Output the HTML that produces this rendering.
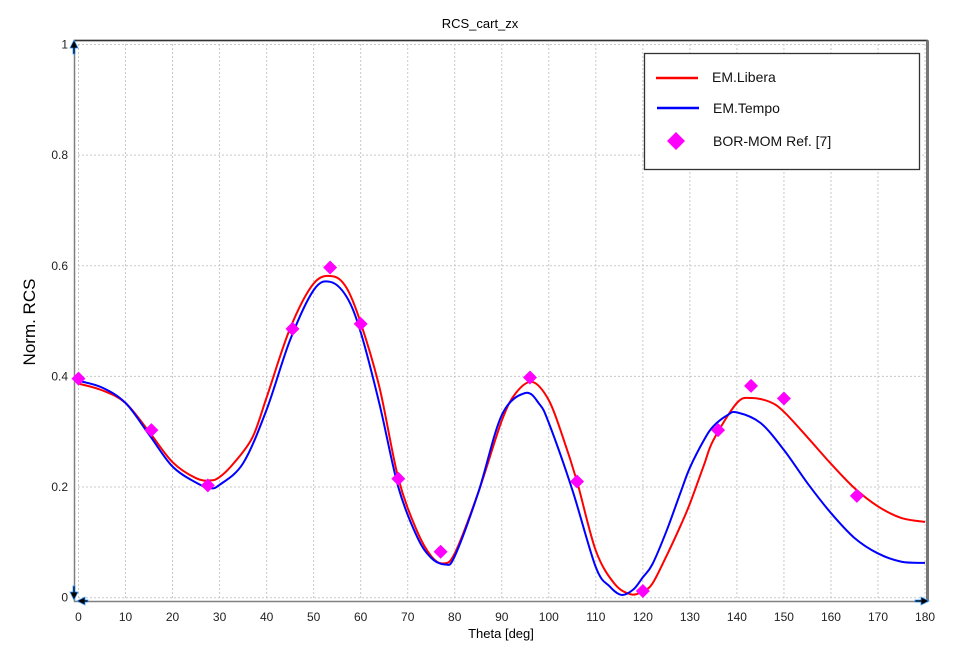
<!DOCTYPE html>
<html><head><meta charset="utf-8"><style>
body{margin:0;background:#fff;width:960px;height:664px;overflow:hidden}
svg{display:block;font-family:"Liberation Sans",sans-serif}
</style></head><body>
<svg id="s" width="960" height="664" xmlns="http://www.w3.org/2000/svg">
<text x="480" y="28" font-size="13" text-anchor="middle" fill="#000">RCS_cart_zx</text>
<g id="grid" stroke="#c8c8c8" stroke-dasharray="2,2" stroke-width="1"></g>
<path d="M74.5 40.5 H927.5 V601.5 H74.5 Z" fill="none" stroke="#808080" stroke-width="1.5"/>
<path d="M74.5 40.5 H927.5" stroke="#333" stroke-width="1.5"/>
<path d="M927.5 40.5 V601.5" stroke="#777" stroke-width="3"/>
<g id="ticks" font-size="12" fill="#222"></g>
<text x="35" y="322" font-size="17" text-anchor="middle" transform="rotate(-90 35 322)">Norm. RCS</text>
<text x="501" y="638" font-size="13" text-anchor="middle">Theta [deg]</text>
<path id="red" fill="none" stroke="#f00" stroke-width="2"/>
<path id="blue" fill="none" stroke="#00f" stroke-width="2"/>
<g id="mk" fill="#f0f"></g>
<path d="M74 40 l-4 8 h3 v6 h2 v-6 h3z" fill="#000" stroke="#39f" stroke-width="0.8"/>
<path d="M74 600 l-4 -8 h3 v-6 h2 v6 h3z" fill="#000" stroke="#39f" stroke-width="0.8"/>
<path d="M77 601 l8 -4 v3 h3 v2 h-3 v3z" fill="#000" stroke="#39f" stroke-width="0.8"/>
<path d="M929 601 l-8 -4 v3 h-6 v2 h6 v3z" fill="#000" stroke="#39f" stroke-width="0.8"/>
<rect x="644.5" y="53.5" width="275" height="116" fill="#fff" stroke="#333" stroke-width="1.3"/>
<line x1="656" y1="78" x2="698" y2="78" stroke="#f00" stroke-width="2.5"/>
<line x1="657" y1="108" x2="699" y2="108" stroke="#00f" stroke-width="2.5"/>
<path d="M676 132 l9 9 l-9 9 l-9 -9z" fill="#f0f"/>
<text x="712" y="82" font-size="14" fill="#111">EM.Libera</text>
<text x="713" y="113" font-size="14" fill="#111">EM.Tempo</text>
<text x="713" y="146" font-size="14" fill="#111">BOR-MOM Ref. [7]</text>
</svg>
<script>
const X=t=>78.5+t*4.703, Y=v=>597.7-v*553.2;
let g=document.getElementById('grid'),tk=document.getElementById('ticks'),h='',k='';
for(let t=0;t<=180;t+=10){let x=X(t);h+=`<line x1="${x}" y1="44" x2="${x}" y2="598"/>`;k+=`<text x="${x}" y="621" text-anchor="middle">${t}</text>`;}
for(let v=0;v<=1.001;v+=0.2){let y=Y(v);h+=`<line x1="78" y1="${y}" x2="925" y2="${y}"/>`;let l=v<0.01?'0':v>0.99?'1':v.toFixed(1);k+=`<text x="68" y="${y+4}" text-anchor="end">${l}</text>`;}
g.innerHTML=h;tk.innerHTML=k;
function path(p){let q=p.map(a=>[X(a[0]),Y(a[1])]);let d=`M${q[0][0]} ${q[0][1]}`;
for(let i=0;i<q.length-1;i++){let p0=q[Math.max(0,i-1)],p1=q[i],p2=q[i+1],p3=q[Math.min(q.length-1,i+2)];
d+=` C${p1[0]+(p2[0]-p0[0])/6} ${p1[1]+(p2[1]-p0[1])/6} ${p2[0]-(p3[0]-p1[0])/6} ${p2[1]-(p3[1]-p1[1])/6} ${p2[0]} ${p2[1]}`;}return d;}
const R=[[0,0.387],[5,0.375],[10,0.352],[15,0.30],[20,0.245],[25,0.216],[28,0.212],[30,0.218],[33,0.243],[37,0.29],[40,0.362],[45,0.487],[50,0.568],[54,0.581],[57,0.56],[60,0.497],[64,0.38],[68,0.216],[72,0.12],[75,0.075],[77.5,0.062],[80,0.08],[85,0.19],[90,0.32],[93,0.37],[96.5,0.39],[100,0.357],[103,0.29],[106,0.21],[110,0.085],[114,0.025],[117.5,0.006],[120,0.012],[122,0.025],[125,0.075],[128,0.13],[130,0.17],[133,0.24],[135,0.285],[140,0.352],[143,0.361],[147,0.354],[150,0.336],[155,0.29],[160,0.242],[165,0.198],[170,0.165],[175,0.144],[180,0.137]];
const B=[[0,0.392],[5,0.38],[10,0.352],[15,0.295],[20,0.237],[25,0.208],[28,0.198],[30,0.204],[35,0.243],[40,0.34],[45,0.466],[50,0.556],[53.5,0.571],[57,0.544],[60,0.48],[64,0.35],[68,0.2],[72,0.11],[75,0.072],[78,0.06],[80,0.075],[85,0.19],[90,0.33],[95,0.37],[98,0.35],[100,0.316],[105,0.195],[110,0.055],[113,0.02],[115.5,0.005],[118,0.015],[120,0.037],[122,0.06],[125,0.12],[128,0.19],[130,0.235],[133,0.285],[135,0.31],[138,0.33],[140,0.335],[145,0.316],[150,0.267],[155,0.207],[160,0.153],[165,0.108],[170,0.08],[175,0.065],[180,0.063]];
document.getElementById('red').setAttribute('d',path(R));
document.getElementById('blue').setAttribute('d',path(B));
const M=[[0,0.396],[15.5,0.303],[27.5,0.203],[45.5,0.486],[53.5,0.597],[60,0.495],[68,0.215],[77,0.083],[96,0.398],[106,0.21],[120,0.012],[136,0.303],[143,0.383],[150,0.36],[165.5,0.184]];
document.getElementById('mk').innerHTML=M.map(m=>{let x=X(m[0]),y=Y(m[1]);return `<path d="M${x} ${y-7} l7 7 l-7 7 l-7 -7z"/>`}).join('');
</script>
</body></html>
